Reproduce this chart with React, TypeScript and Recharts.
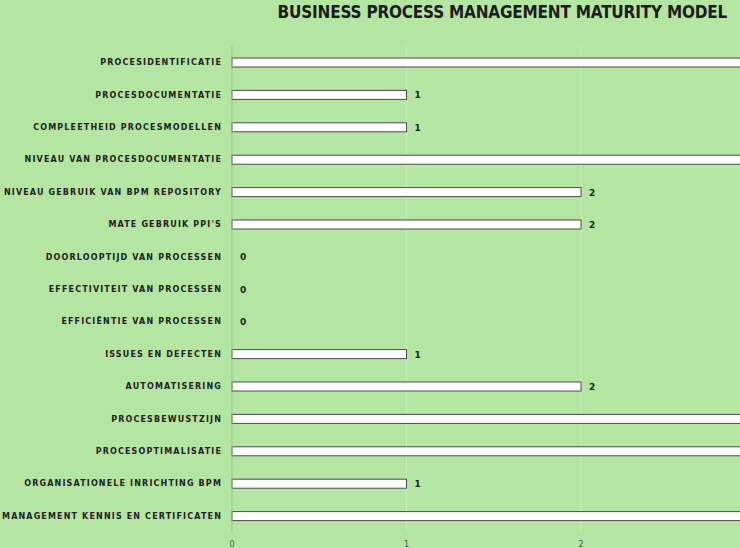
import React from 'react';
import { BarChart, Bar, XAxis, YAxis, CartesianGrid } from 'recharts';

const categories = [
  'PROCESIDENTIFICATIE',
  'PROCESDOCUMENTATIE',
  'COMPLEETHEID PROCESMODELLEN',
  'NIVEAU VAN PROCESDOCUMENTATIE',
  'NIVEAU GEBRUIK VAN BPM REPOSITORY',
  "MATE GEBRUIK PPI'S",
  'DOORLOOPTIJD VAN PROCESSEN',
  'EFFECTIVITEIT VAN PROCESSEN',
  'EFFICIËNTIE VAN PROCESSEN',
  'ISSUES EN DEFECTEN',
  'AUTOMATISERING',
  'PROCESBEWUSTZIJN',
  'PROCESOPTIMALISATIE',
  'ORGANISATIONELE INRICHTING BPM',
  'MANAGEMENT KENNIS EN CERTIFICATEN',
];
const scores = [3, 1, 1, 3, 2, 2, 0, 0, 0, 1, 2, 3, 3, 1, 3];
const xTicks = [0, 1, 2, 3];

const data = categories.map((name, i) => ({ name, value: scores[i] }));

const font = '"DejaVu Sans", sans-serif';

function CategoryTick(props: any) {
  const { x, y, payload } = props;
  return (
    <text
      x={x}
      y={y}
      dy={3}
      textAnchor="end"
      fontSize={8}
      fontWeight="bold"
      fill="#222"
      letterSpacing={1.15}
      fontFamily={font}
    >
      {payload.value}
    </text>
  );
}

// draws the bar and its value, also for zero-length bars
function BarWithLabel(props: any) {
  const { x, y, width, height, value } = props;
  const v = Array.isArray(value) ? value[1] : value;
  return (
    <g>
      {width > 0 && (
        <rect x={x} y={y} width={width} height={height} fill="#ffffff" stroke="#4a4a4a" strokeWidth={1} />
      )}
      <text
        x={x + width + 8}
        y={y + height / 2}
        dy={3.5}
        fontSize={9}
        fontWeight="bold"
        fill="#222"
        fontFamily={font}
      >
        {v}
      </text>
    </g>
  );
}

export default function App() {
  return (
    <div
      style={{
        position: 'fixed',
        left: 0,
        top: 0,
        width: 740,
        height: 548,
        overflow: 'hidden',
        background: '#b4e5a2',
      }}
    >
      <div
        style={{
          position: 'absolute',
          right: 13,
          top: 1,
          fontFamily: font,
          fontStretch: 'condensed',
          fontWeight: 'bold',
          fontSize: 17,
          letterSpacing: -0.2,
          lineHeight: '22px',
          color: '#1c1c1c',
          whiteSpace: 'nowrap',
        }}
      >
        BUSINESS PROCESS MANAGEMENT MATURITY MODEL
      </div>
      <BarChart
        width={780}
        height={548}
        data={data}
        layout="vertical"
        margin={{ top: 46, right: 24.5, bottom: 0, left: 0 }}
      >
        <CartesianGrid horizontal={false} stroke="#c8eebb" />
        <XAxis
          type="number"
          domain={[0, 3]}
          ticks={xTicks}
          height={16}
          axisLine={false}
          tickLine={false}
          tickSize={0}
          tickMargin={9}
          tick={{ fontSize: 8, fill: '#555', fontFamily: font }}
        />
        <YAxis
          type="category"
          dataKey="name"
          width={232}
          axisLine={{ stroke: '#8fbf80' }}
          tickLine={false}
          tickSize={0}
          tickMargin={10}
          interval={0}
          tick={<CategoryTick />}
        />
        <Bar dataKey="value" barSize={9} isAnimationActive={false} shape={<BarWithLabel />} />
      </BarChart>
    </div>
  );
}
